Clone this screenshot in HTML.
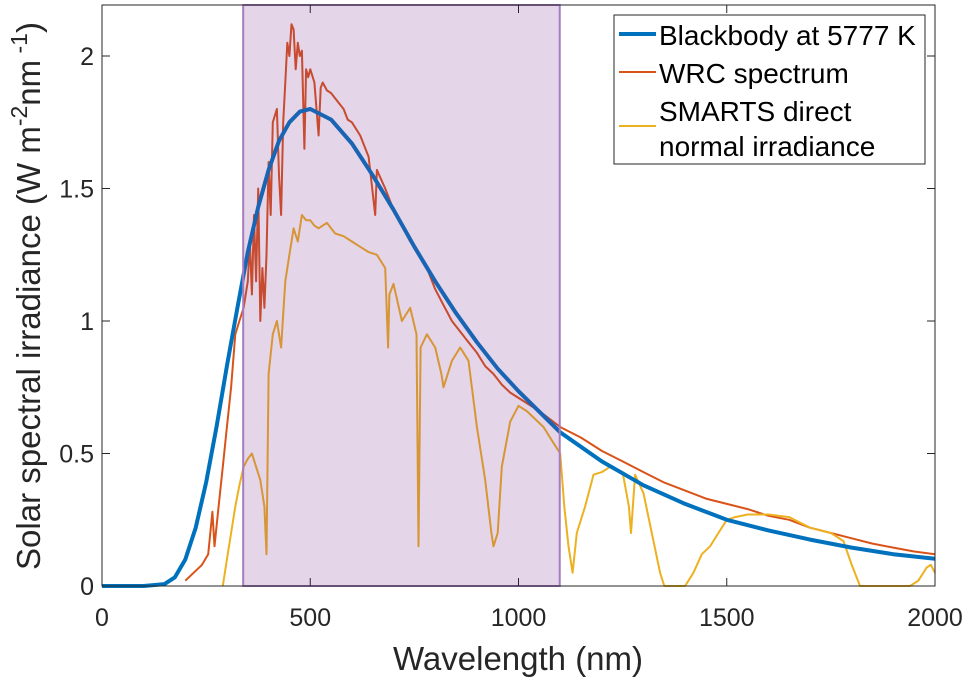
<!DOCTYPE html>
<html><head><meta charset="utf-8"><style>
html,body{margin:0;padding:0;background:#fff;}
svg text{font-family:"Liberation Sans",sans-serif;}
</style></head><body>
<svg id="chart" width="969" height="678" xmlns="http://www.w3.org/2000/svg">
<rect x="0" y="0" width="969" height="678" fill="#fff"/>
<g id="series"></g>
<rect id="band" fill="#7E2F8E" fill-opacity="0.2" stroke="#a77bc0" stroke-width="2"/>
<g id="axes"></g>
<g>
<rect x="614" y="15" width="311" height="149" fill="#fff" stroke="#262626" stroke-width="1"/>
<line x1="619" y1="34" x2="656" y2="34" stroke="#0072BD" stroke-width="4"/>
<text x="659" y="45" font-size="28" fill="#000">Blackbody at 5777 K</text>
<line x1="619" y1="72" x2="656" y2="72" stroke="#D95319" stroke-width="2"/>
<text x="659" y="83" font-size="28" fill="#000">WRC spectrum</text>
<line x1="619" y1="126" x2="656" y2="126" stroke="#EDB120" stroke-width="2"/>
<text x="659" y="121" font-size="28" fill="#000">SMARTS direct</text>
<text x="659" y="156" font-size="28" fill="#000">normal irradiance</text>
</g>
<text x="518" y="670" font-size="33" text-anchor="middle" fill="#262626">Wavelength (nm)</text>
<text transform="translate(40,296) rotate(-90)" font-size="33" text-anchor="middle" fill="#262626">Solar spectral irradiance (W m<tspan dy="-13" font-size="23">-2</tspan><tspan dy="13">nm</tspan><tspan dy="-13" font-size="23"> -1</tspan><tspan dy="13">)</tspan></text>
</svg>
<script>
const bbWl=[0,100,150,175,200,225,250,275,300,325,350,375,400,425,450,475,500,550,600,650,700,750,800,850,900,950,1000,1100,1200,1300,1400,1500,1600,1700,1800,1900,2000];
const bbVal=[0,0,0.007,0.033,0.10,0.22,0.39,0.60,0.83,1.05,1.26,1.43,1.57,1.68,1.75,1.79,1.80,1.76,1.67,1.55,1.42,1.28,1.15,1.03,0.92,0.82,0.735,0.58,0.47,0.38,0.31,0.25,0.21,0.175,0.145,0.12,0.103];
const wrcWl=[200,220,240,255,265,270,280,290,300,310,320,330,340,350,355,360,365,370,375,380,385,390,395,400,405,410,420,425,430,435,440,445,450,455,460,465,470,475,480,486,490,495,500,510,520,525,530,540,550,560,570,580,590,600,620,640,656,660,680,700,720,740,760,780,800,820,840,860,880,900,920,940,960,980,1000,1050,1100,1150,1200,1250,1300,1350,1400,1450,1500,1550,1600,1650,1700,1750,1800,1850,1900,1950,2000];
const wrcVal=[0.02,0.05,0.08,0.12,0.28,0.15,0.3,0.45,0.6,0.75,0.95,1.0,1.05,1.15,1.3,1.1,1.4,1.15,1.5,1.0,1.2,1.05,1.25,1.6,1.4,1.75,1.8,1.55,1.4,1.75,1.9,2.05,2.0,2.12,2.1,1.95,2.05,2.0,2.02,1.65,1.95,1.92,1.95,1.9,1.7,1.88,1.9,1.87,1.86,1.84,1.82,1.8,1.76,1.75,1.7,1.62,1.4,1.57,1.5,1.42,1.36,1.3,1.25,1.2,1.12,1.06,1.0,0.96,0.92,0.88,0.83,0.8,0.76,0.73,0.71,0.66,0.6,0.56,0.51,0.47,0.43,0.39,0.36,0.33,0.31,0.29,0.265,0.25,0.22,0.2,0.18,0.16,0.145,0.13,0.12];
const smWl=[290,300,310,320,330,340,350,360,370,380,390,395,400,410,420,430,440,450,460,470,480,490,500,510,520,530,540,560,580,600,620,640,660,680,687,690,700,720,740,755,760,765,780,800,815,820,840,860,880,900,920,935,940,950,960,980,1000,1020,1040,1060,1080,1100,1110,1120,1130,1140,1160,1180,1200,1220,1250,1265,1270,1280,1300,1320,1340,1350,1400,1420,1440,1460,1480,1500,1520,1550,1600,1650,1700,1750,1780,1800,1820,1940,1960,1980,1990,2000];
const smVal=[0,0.1,0.2,0.3,0.38,0.45,0.48,0.5,0.45,0.4,0.3,0.12,0.8,0.95,1.0,0.9,1.15,1.25,1.35,1.3,1.4,1.38,1.38,1.36,1.35,1.36,1.37,1.33,1.32,1.3,1.28,1.26,1.25,1.2,0.9,1.1,1.14,1.0,1.05,0.95,0.15,0.9,0.95,0.9,0.8,0.75,0.85,0.9,0.85,0.6,0.4,0.2,0.15,0.2,0.45,0.62,0.68,0.66,0.63,0.6,0.55,0.5,0.3,0.15,0.05,0.2,0.3,0.42,0.43,0.45,0.43,0.3,0.2,0.42,0.35,0.2,0.05,0,0,0.05,0.12,0.15,0.2,0.25,0.26,0.27,0.27,0.26,0.22,0.2,0.17,0.08,0,0,0.02,0.07,0.08,0.05];
const xTicks=[0,500,1000,1500,2000];
const yTicks=[0,0.5,1,1.5,2];
const yTickLabels=["0","0.5","1","1.5","2"];
const bandRange=[339,1099];

const NS="http://www.w3.org/2000/svg";
const L=102,R=935,T=5,B=586;
const X=v=>L+(v/2000)*(R-L);
const Y=v=>B-v*265;
function mk(tag,attrs,parent){const e=document.createElementNS(NS,tag);for(const k in attrs)e.setAttribute(k,attrs[k]);parent.appendChild(e);return e;}
const series=document.getElementById('series');
function line(wl,val,color,w,name){
  const d=wl.map((x,i)=>(i?'L':'M')+X(x).toFixed(1)+','+Y(val[i]).toFixed(1)).join(' ');
  const p=mk('path',{d:d,fill:'none',stroke:color,'stroke-width':w,'stroke-linejoin':'round'},series);
  
  
}
line(wrcWl,wrcVal,'#D95319',2,'wrc-spectrum-line');
line(smWl,smVal,'#EDB120',2,'smarts-direct-normal-line');
line(bbWl,bbVal,'#0072BD',4,'blackbody-5777k-line');
const band=document.getElementById('band');
band.setAttribute('x',X(bandRange[0]));band.setAttribute('width',X(bandRange[1])-X(bandRange[0]));
band.setAttribute('y',T);band.setAttribute('height',B-T);
const axes=document.getElementById('axes');
const frame=mk('rect',{x:L,y:T,width:R-L,height:B-T,fill:'none',stroke:'#262626','stroke-width':1},axes);


xTicks.forEach(t=>{
  const x=X(t);
  const a=mk('line',{x1:x,y1:B,x2:x,y2:B-8,stroke:'#262626'},axes);
  
  
  const b=mk('line',{x1:x,y1:T,x2:x,y2:T+8,stroke:'#262626'},axes);
  
  
  const tx=mk('text',{x:x,y:B+40,'font-size':25,'text-anchor':'middle',fill:'#262626'},axes);
  tx.textContent=String(t);
  
  
});
yTicks.forEach((t,i)=>{
  const y=Y(t);
  const a=mk('line',{x1:L,y1:y,x2:L+8,y2:y,stroke:'#262626'},axes);
  
  
  const b=mk('line',{x1:R,y1:y,x2:R-8,y2:y,stroke:'#262626'},axes);
  
  
  const tx=mk('text',{x:L-8,y:y+9,'font-size':25,'text-anchor':'end',fill:'#262626'},axes);
  tx.textContent=yTickLabels[i];
  
  
});
</script>
</body></html>
